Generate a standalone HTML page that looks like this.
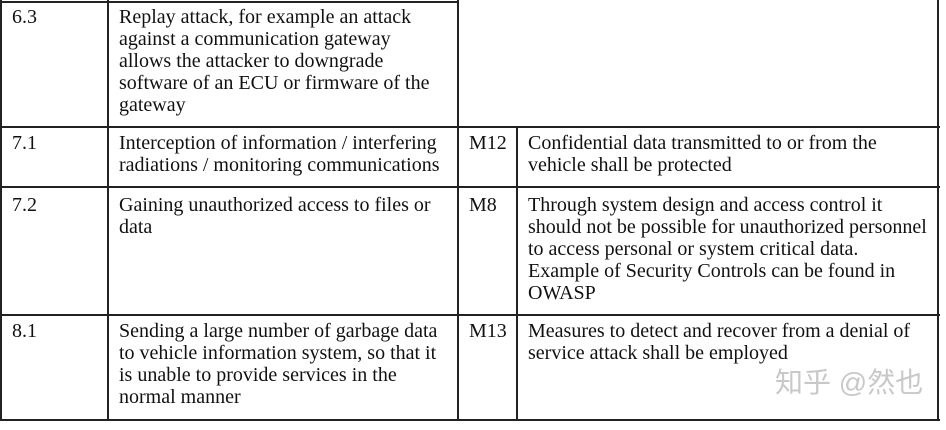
<!DOCTYPE html>
<html><head><meta charset="utf-8"><style>
body{margin:0;width:946px;height:430px;background:#fff;position:relative;overflow:hidden;font-family:"Liberation Serif",serif;font-size:20px;line-height:22px;color:#111}
.h{position:absolute;height:2px;background:#222}
.v{position:absolute;width:2px;background:#222}
.t{position:absolute;white-space:nowrap}
</style></head><body>
<div class="h" style="left:0;top:1px;width:459px"></div>
<div class="h" style="left:0;top:126px;width:940px"></div>
<div class="h" style="left:0;top:186px;width:940px"></div>
<div class="h" style="left:0;top:314px;width:940px"></div>
<div class="h" style="left:0;top:419px;width:940px"></div>
<div class="v" style="left:0;top:0;height:421px"></div>
<div class="v" style="left:107px;top:0;height:421px"></div>
<div class="v" style="left:457px;top:0;height:421px"></div>
<div class="v" style="left:516px;top:127px;height:294px"></div>
<div class="v" style="left:937px;top:0;height:421px"></div>

<div class="t" style="left:12px;top:6px">6.3</div>
<div class="t" style="left:119px;top:6px">Replay attack, for example an attack<br>against a communication gateway<br>allows the attacker to downgrade<br>software of an ECU or firmware of the<br>gateway</div>

<div class="t" style="left:12px;top:132px">7.1</div>
<div class="t" style="left:119px;top:132px">Interception of information / interfering<br>radiations / monitoring communications</div>
<div class="t" style="left:469px;top:132px">M12</div>
<div class="t" style="left:528px;top:132px">Confidential data transmitted to or from the<br>vehicle shall be protected</div>

<div class="t" style="left:12px;top:194px">7.2</div>
<div class="t" style="left:119px;top:194px">Gaining unauthorized access to files or<br>data</div>
<div class="t" style="left:469px;top:194px">M8</div>
<div class="t" style="left:528px;top:194px">Through system design and access control it<br>should not be possible for unauthorized personnel<br>to access personal or system critical data.<br>Example of Security Controls can be found in<br>OWASP</div>

<div class="t" style="left:12px;top:320px">8.1</div>
<div class="t" style="left:119px;top:320px">Sending a large number of garbage data<br>to vehicle information system, so that it<br>is unable to provide services in the<br>normal manner</div>
<div class="t" style="left:469px;top:320px">M13</div>
<div class="t" style="left:528px;top:320px">Measures to detect and recover from a denial of<br>service attack shall be employed</div>

<div class="t" style="left:775px;top:366px;font-family:'Liberation Sans','Noto Sans CJK SC',sans-serif;font-size:28px;line-height:34px;color:#c8c8c8">知乎 @然也</div>
</body></html>
